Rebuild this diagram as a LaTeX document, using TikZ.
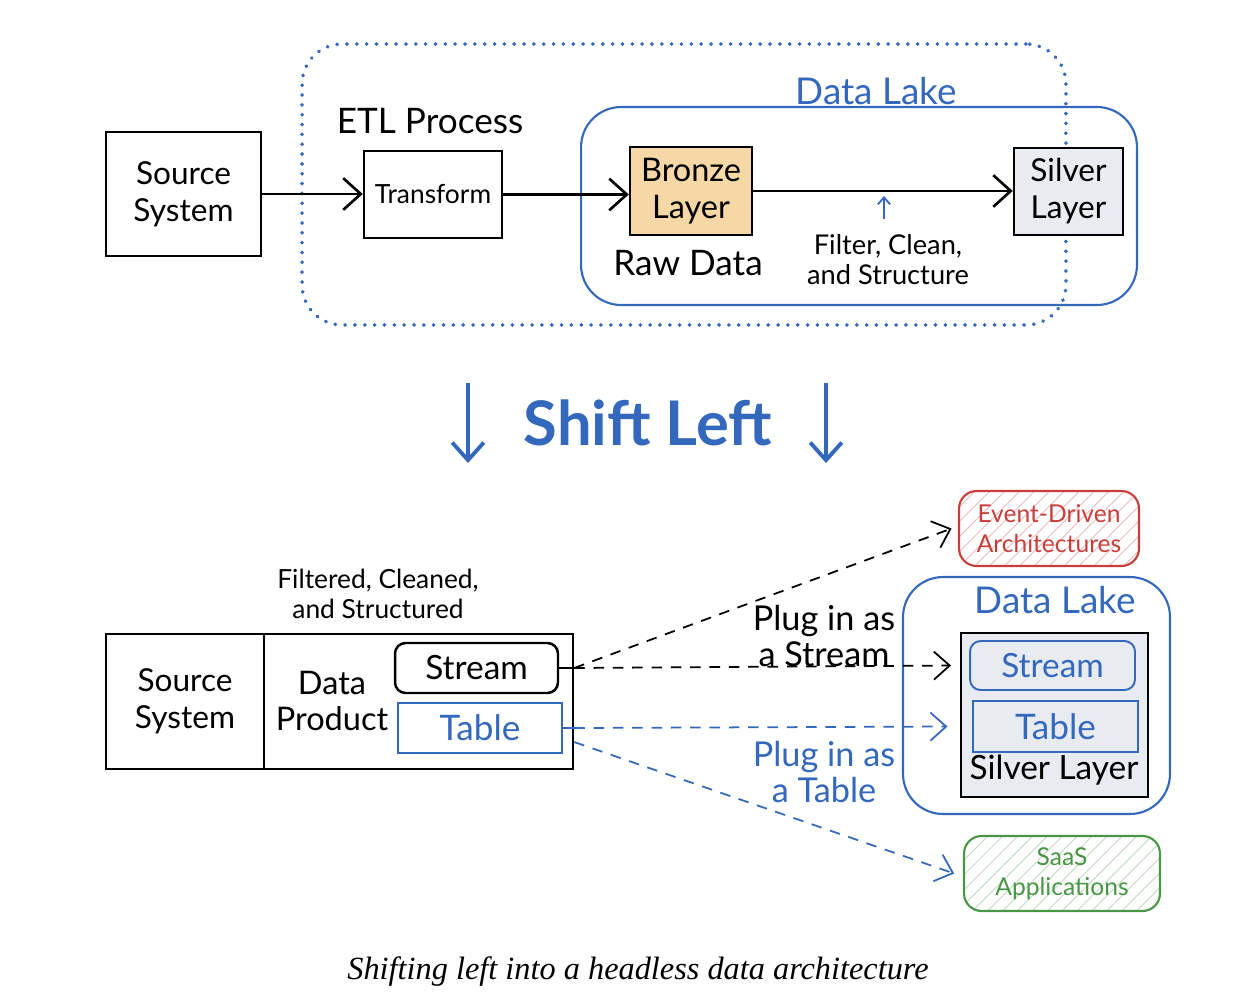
\documentclass[tikz,border=0pt]{standalone}
\usepackage{fontspec}
\setsansfont{Lato}
\newfontfamily\capfont{Liberation Serif}
\usetikzlibrary{arrows.meta,patterns.meta}
\definecolor{blueC}{RGB}{52,104,188}
\definecolor{redC}{RGB}{200,62,58}
\definecolor{greenC}{RGB}{72,150,70}
\definecolor{bronzeF}{RGB}{245,216,166}
\definecolor{silverF}{RGB}{232,235,239}
\newcommand{\fs}[2]{\fontsize{#1}{#2}\selectfont}
\tikzset{
  bx/.style={draw=black, line width=1.4pt, inner sep=0pt, align=center, font=\sffamily\fs{18}{21}},
  bluebx/.style={draw=blueC, line width=1.1pt, inner sep=0pt, align=center, text=blueC, font=\sffamily\fs{20}{22}},
  lbl/.style={align=center, font=\sffamily\fs{18}{21}, inner sep=0pt},
  barb/.style={-{Straight Barb[length=10pt,width=18pt,line width=1.5pt]}},
  sarrow/.style={line width=1.6pt, barb},
  dasharr/.style={line width=1pt, dash pattern=on 6pt off 5pt, -{Straight Barb[length=9pt,width=16pt,line width=1pt]}},
}
\begin{document}
\begin{tikzpicture}[x=0.02cm,y=-0.02cm]
\useasboundingbox[fill=white] (0,0) rectangle (1246,1004);

% ---------- top part ----------
\node[draw=blueC, line width=2.2pt, dash pattern=on 0.1pt off 5.5pt, line cap=round, rounded corners=0.8cm,
      minimum width=15.28cm, minimum height=5.62cm] (etl) at (684,184.5) {};
\node[draw=blueC, line width=1.2pt, rounded corners=0.8cm,
      minimum width=11.12cm, minimum height=3.96cm] (lake1) at (859,206) {};
\node[lbl, text=blueC, font=\sffamily\fs{21}{24}] (lake1lbl) at (876,91) {Data Lake};
\node[lbl, font=\sffamily\fs{20}{24}] (etllbl) at (430,121) {ETL Process};

\node[bx, minimum width=3.10cm, minimum height=2.48cm] (src1) at (183.5,194) {Source\\System};
\node[bx, font=\sffamily\fs{15}{18}, minimum width=2.76cm, minimum height=1.74cm] (trans) at (433,194.5) {Transform};
\node[bx, fill=bronzeF, font=\sffamily\fs{18.5}{21}, minimum width=2.44cm, minimum height=1.76cm] (bronze) at (691,191) {Bronze\\Layer};
\node[bx, fill=silverF, minimum width=2.18cm, minimum height=1.74cm] (silver1) at (1068.5,191.5) {Silver\\Layer};

\node[lbl, font=\sffamily\fs{20}{24}] (raw) at (688,263) {Raw Data};
\node[lbl, font=\sffamily\fs{15.5}{17}] (fcs) at (888,260) {Filter, Clean,\\and Structure};

\draw[sarrow] (src1.east) -- (src1.east -| trans.west);
\draw[sarrow] (trans.east) -- (trans.east -| bronze.west);
\draw[sarrow] (bronze.east) -- (bronze.east -| silver1.west);
\coordinate (up0) at (884,219);
\coordinate (up1) at (884,196);
\draw[blueC, line width=1pt, -{Straight Barb[length=4pt,width=7pt]}] (up0) -- (up1);

% ---------- shift left ----------
\coordinate (sa0) at (468,383);
\coordinate (sa1) at (468,463);
\coordinate (sb0) at (826,383);
\coordinate (sb1) at (826,463);
\draw[blueC, line width=2.2pt, -{Straight Barb[length=10pt,width=18pt,line width=2.2pt]}] (sa0) -- (sa1);
\draw[blueC, line width=2.2pt, -{Straight Barb[length=10pt,width=18pt,line width=2.2pt]}] (sb0) -- (sb1);
\node[lbl, text=blueC, font=\sffamily\bfseries\fs{35}{40}] (shift) at (648,423) {Shift Left};

% ---------- bottom part ----------
\node[lbl, font=\sffamily\fs{15}{17}] (fcs2) at (378,594) {Filtered, Cleaned,\\and Structured};
\node[bx, minimum width=3.16cm, minimum height=2.70cm] (src2) at (185,701.5) {Source\\System};
\node[bx, minimum width=6.18cm, minimum height=2.70cm] (dp) at (418.5,701.5) {};
\node[lbl, font=\sffamily\fs{18.5}{21}] (dplbl) at (332,701) {Data\\Product};
\node[bx, font=\sffamily\fs{19}{21}, rounded corners=6pt, minimum width=3.26cm, minimum height=1.0cm] (stream1) at (476.5,668) {Stream};
\node[bluebx, minimum width=3.28cm, minimum height=1.0cm] (table1) at (480,728) {Table};

% event driven
\node[draw=redC, line width=1.2pt, rounded corners=10pt,
      pattern={Lines[angle=45,distance=6pt,line width=0.5pt]}, pattern color=redC!35,
      minimum width=3.60cm, minimum height=1.5cm] (eda) at (1049,528.5) {};
\node[lbl, text=redC, font=\sffamily\fs{14}{17}] (edalbl) at (1049,528.5) {Event-Driven\\Architectures};

% data lake bottom
\node[draw=blueC, line width=1.2pt, rounded corners=0.8cm,
      minimum width=5.34cm, minimum height=4.74cm] (lake2) at (1036.5,695.5) {};
\node[lbl, text=blueC, font=\sffamily\fs{21}{24}] (lake2lbl) at (1055,600) {Data Lake};
\node[bx, fill=silverF, minimum width=3.74cm, minimum height=3.28cm] (silver2) at (1054.5,715) {};
\node[bluebx, fill=silverF, font=\sffamily\fs{19}{21}, rounded corners=6pt, minimum width=3.30cm, minimum height=0.98cm] (stream2) at (1052.5,665.5) {Stream};
\node[bluebx, fill=silverF, minimum width=3.30cm, minimum height=1.02cm] (table2) at (1055.5,726.5) {Table};
\node[lbl, font=\sffamily\fs{19}{21}] (silverlbl) at (1054,770) {Silver Layer};

% saas
\node[draw=greenC, line width=1.2pt, rounded corners=10pt,
      pattern={Lines[angle=45,distance=6pt,line width=0.5pt]}, pattern color=greenC!35,
      minimum width=3.92cm, minimum height=1.5cm] (saas) at (1062,873.5) {};
\node[lbl, text=greenC, font=\sffamily\fs{14}{17}] (saaslbl) at (1062,873.5) {SaaS\\Applications};

% connectors
\draw[line width=1pt] (stream1.east) -- (dp.east |- stream1.east);
\draw[blueC, line width=1pt] (table1.east) -- (dp.east |- table1.east);
\draw[dasharr] (dp.east |- stream1.east) -- ([xshift=-4pt]eda.west);
\draw[dasharr] (dp.east |- stream1.east) -- ([xshift=-5pt]silver2.west |- stream2.west);
\draw[dasharr, draw=blueC] (dp.east |- table1.east) -- ([xshift=-7pt]silver2.west |- table2.west);
\draw[dasharr, draw=blueC] ([yshift=-8pt]dp.east |- table1.east) -- ([xshift=-5pt]saas.west);

\node[lbl, font=\sffamily\fs{19.5}{20.5}] (plugs) at (824,636) {Plug in as\\a Stream};
\node[lbl, text=blueC, font=\sffamily\fs{19.5}{20.5}] (plugt) at (824,772) {Plug in as\\a Table};

% caption
\node[font=\capfont\itshape\fs{18.4}{21}] (cap) at (638,972) {Shifting left into a headless data architecture};
\end{tikzpicture}
\end{document}
